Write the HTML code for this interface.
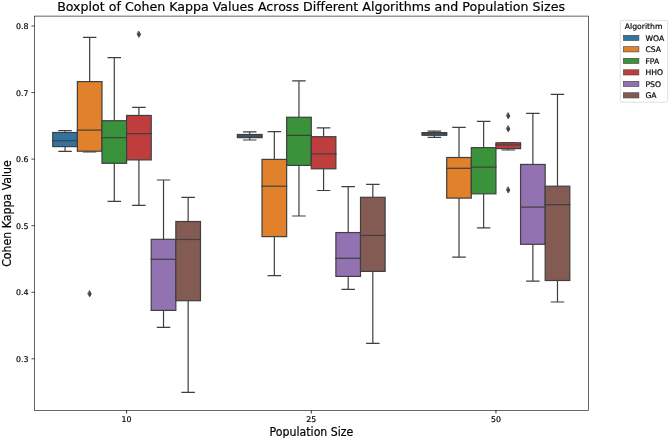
<!DOCTYPE html>
<html><head><meta charset="utf-8"><title>Boxplot of Cohen Kappa Values</title>
<style>
html,body{margin:0;padding:0;background:#fff;}
svg{display:block;font-family:"DejaVu Sans","Liberation Sans",sans-serif;}
text{fill:#000;stroke:#000;stroke-width:0.18px;}
</style></head><body>
<svg width="669" height="438" viewBox="0 0 669 438">
<rect width="669" height="438" fill="#fff"/>
<text x="311.1" y="11.2" font-size="12.61" text-anchor="middle">Boxplot of Cohen Kappa Values Across Different Algorithms and Population Sizes</text>
<g stroke="#3f3f3f" stroke-width="1.2" fill="none" stroke-linecap="square">
<path d="M65.05 132.5V130.7M65.05 146.6V151.4M58.89 130.7H71.2M58.89 151.4H71.2"/>
<rect x="52.74" y="132.5" width="24.62" height="14.1" fill="#3274a1"/>
<path d="M52.74 140.75H77.36"/>
<path d="M89.67 81.6V37.4M89.67 151.2V152M83.51 37.4H95.82M83.51 152H95.82"/>
<rect x="77.36" y="81.6" width="24.62" height="69.6" fill="#e1812c"/>
<path d="M77.36 130.1H101.98"/>
<path d="M89.67 290.95L91.34 293.9L89.67 296.85L88 293.9Z" fill="#3f3f3f" stroke-width="0.8"/>
<path d="M114.29 120.7V57.7M114.29 163.3V201.4M108.13 57.7H120.44M108.13 201.4H120.44"/>
<rect x="101.98" y="120.7" width="24.62" height="42.6" fill="#3a923a"/>
<path d="M101.98 137.6H126.6"/>
<path d="M138.91 115.45V107.45M138.91 159.9V205.4M132.75 107.45H145.06M132.75 205.4H145.06"/>
<rect x="126.6" y="115.45" width="24.62" height="44.45" fill="#c03d3e"/>
<path d="M126.6 133.7H151.22"/>
<path d="M138.91 31.45L140.58 34.4L138.91 37.35L137.24 34.4Z" fill="#3f3f3f" stroke-width="0.8"/>
<path d="M163.53 239.3V180M163.53 310.4V327.3M157.38 180H169.69M157.38 327.3H169.69"/>
<rect x="151.22" y="239.3" width="24.62" height="71.1" fill="#9372b2"/>
<path d="M151.22 259.3H175.84"/>
<path d="M188.15 221.5V197.4M188.15 300.7V392.4M182 197.4H194.31M182 392.4H194.31"/>
<rect x="175.84" y="221.5" width="24.62" height="79.2" fill="#845b53"/>
<path d="M175.84 239.5H200.46"/>
</g>
<g stroke="#3f3f3f" stroke-width="1.2" fill="none" stroke-linecap="square">
<path d="M249.72 134.5V131.9M249.72 137.65V140M243.56 131.9H255.87M243.56 140H255.87"/>
<rect x="237.41" y="134.5" width="24.62" height="3.15" fill="#3274a1"/>
<path d="M237.41 136.1H262.03"/>
<path d="M274.34 159.4V131.6M274.34 236.6V275.6M268.19 131.6H280.49M268.19 275.6H280.49"/>
<rect x="262.03" y="159.4" width="24.62" height="77.2" fill="#e1812c"/>
<path d="M262.03 186.2H286.65"/>
<path d="M298.96 117.25V80.9M298.96 165.4V216M292.81 80.9H305.11M292.81 216H305.11"/>
<rect x="286.65" y="117.25" width="24.62" height="48.15" fill="#3a923a"/>
<path d="M286.65 135.4H311.27"/>
<path d="M323.58 136.7V127.85M323.58 168.8V190.5M317.43 127.85H329.73M317.43 190.5H329.73"/>
<rect x="311.27" y="136.7" width="24.62" height="32.1" fill="#c03d3e"/>
<path d="M311.27 153.9H335.89"/>
<path d="M348.2 232.55V186.7M348.2 276.4V289.3M342.05 186.7H354.35M342.05 289.3H354.35"/>
<rect x="335.89" y="232.55" width="24.62" height="43.85" fill="#9372b2"/>
<path d="M335.89 258.3H360.51"/>
<path d="M372.82 197.3V184.3M372.82 271.4V343.4M366.67 184.3H378.97M366.67 343.4H378.97"/>
<rect x="360.51" y="197.3" width="24.62" height="74.1" fill="#845b53"/>
<path d="M360.51 235.45H385.13"/>
</g>
<g stroke="#3f3f3f" stroke-width="1.2" fill="none" stroke-linecap="square">
<path d="M434.39 132.6V131.2M434.39 135.3V137.3M428.23 131.2H440.54M428.23 137.3H440.54"/>
<rect x="422.08" y="132.6" width="24.62" height="2.7" fill="#3274a1"/>
<path d="M422.08 133.95H446.7"/>
<path d="M459.01 157.5V127.4M459.01 198.1V257.2M452.85 127.4H465.16M452.85 257.2H465.16"/>
<rect x="446.7" y="157.5" width="24.62" height="40.6" fill="#e1812c"/>
<path d="M446.7 168.3H471.32"/>
<path d="M483.63 147.65V121.4M483.63 193.8V227.85M477.47 121.4H489.78M477.47 227.85H489.78"/>
<rect x="471.32" y="147.65" width="24.62" height="46.15" fill="#3a923a"/>
<path d="M471.32 167.1H495.94"/>
<path d="M508.25 142.8V142.8M508.25 148.6V150M502.09 142.8H514.4M502.09 150H514.4"/>
<rect x="495.94" y="142.8" width="24.62" height="5.8" fill="#c03d3e"/>
<path d="M495.94 145H520.56"/>
<path d="M508.25 112.95L509.92 115.9L508.25 118.85L506.58 115.9Z" fill="#3f3f3f" stroke-width="0.8"/>
<path d="M508.25 125.95L509.92 128.9L508.25 131.85L506.58 128.9Z" fill="#3f3f3f" stroke-width="0.8"/>
<path d="M508.25 187.15L509.92 190.1L508.25 193.05L506.58 190.1Z" fill="#3f3f3f" stroke-width="0.8"/>
<path d="M532.87 164.45V113.35M532.87 244.3V281.1M526.71 113.35H539.02M526.71 281.1H539.02"/>
<rect x="520.56" y="164.45" width="24.62" height="79.85" fill="#9372b2"/>
<path d="M520.56 207.1H545.18"/>
<path d="M557.49 186.2V94.35M557.49 280.5V302M551.33 94.35H563.64M551.33 302H563.64"/>
<rect x="545.18" y="186.2" width="24.62" height="94.3" fill="#845b53"/>
<path d="M545.18 204.7H569.8"/>
</g>
<rect x="34.6" y="16.1" width="554.0" height="394.2" fill="none" stroke="#000" stroke-width="0.6"/>
<g font-size="7.86" text-anchor="end">
<path d="M34.6 26h-3.2" stroke="#000" stroke-width="0.7"/><text x="28.6" y="29.1">0.8</text>
<path d="M34.6 92.56h-3.2" stroke="#000" stroke-width="0.7"/><text x="28.6" y="95.66">0.7</text>
<path d="M34.6 159.12h-3.2" stroke="#000" stroke-width="0.7"/><text x="28.6" y="162.22">0.6</text>
<path d="M34.6 225.68h-3.2" stroke="#000" stroke-width="0.7"/><text x="28.6" y="228.78">0.5</text>
<path d="M34.6 292.24h-3.2" stroke="#000" stroke-width="0.7"/><text x="28.6" y="295.34">0.4</text>
<path d="M34.6 358.8h-3.2" stroke="#000" stroke-width="0.7"/><text x="28.6" y="361.9">0.3</text>
</g>
<g font-size="7.86" text-anchor="middle">
<path d="M126.6 410.3v3.2" stroke="#000" stroke-width="0.8"/><text x="126.6" y="421.8">10</text>
<path d="M311.27 410.3v3.2" stroke="#000" stroke-width="0.8"/><text x="311.27" y="421.8">25</text>
<path d="M495.94 410.3v3.2" stroke="#000" stroke-width="0.8"/><text x="495.94" y="421.8">50</text>
</g>
<text transform="translate(311.5 436) scale(1 1.05)" font-size="11" text-anchor="middle">Population Size</text>
<text transform="translate(11.0 213.5) rotate(-90) scale(1 1.07)" font-size="11" text-anchor="middle">Cohen Kappa Value</text>
<rect x="620.3" y="20.4" width="47.4" height="81.8" rx="1.6" ry="1.6" fill="#fff" stroke="#d2d2d2" stroke-width="0.7"/>
<text x="643.6" y="29.3" font-size="7.7" text-anchor="middle">Algorithm</text>
<g font-size="7.7">
<rect x="623.4" y="35.3" width="15.5" height="5.2" fill="#3274a1" stroke="#3f3f3f" stroke-width="0.6"/><text x="645.4" y="40.7">WOA</text>
<rect x="623.4" y="46.7" width="15.5" height="5.2" fill="#e1812c" stroke="#3f3f3f" stroke-width="0.6"/><text x="645.4" y="52.1">CSA</text>
<rect x="623.4" y="58.3" width="15.5" height="5.2" fill="#3a923a" stroke="#3f3f3f" stroke-width="0.6"/><text x="645.4" y="63.7">FPA</text>
<rect x="623.4" y="69.8" width="15.5" height="5.2" fill="#c03d3e" stroke="#3f3f3f" stroke-width="0.6"/><text x="645.4" y="75.2">HHO</text>
<rect x="623.4" y="81.3" width="15.5" height="5.2" fill="#9372b2" stroke="#3f3f3f" stroke-width="0.6"/><text x="645.4" y="86.7">PSO</text>
<rect x="623.4" y="92.75" width="15.5" height="5.2" fill="#845b53" stroke="#3f3f3f" stroke-width="0.6"/><text x="645.4" y="98.15">GA</text>
</g>
</svg>
</body></html>
